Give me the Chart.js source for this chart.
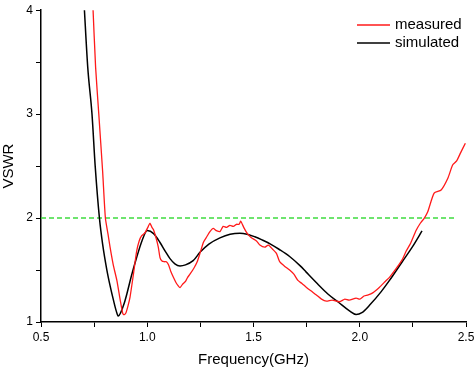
<!DOCTYPE html>
<html>
<head>
<meta charset="utf-8">
<script src="https://cdn.jsdelivr.net/npm/chart.js@4.4.0/dist/chart.umd.min.js"></script>
<style>
  body { margin: 0; background: #fff; }
  .wrap { width: 474px; height: 369px; position: relative; }
</style>
</head>
<body>
<div class="wrap"><canvas id="vswrCanvas"></canvas></div>
<script>
// ---------------- data ----------------
const seriesNames = ['measured', 'simulated'];

const measFreq = [0.744, 0.757, 0.772, 0.79, 0.803, 0.815, 0.825, 0.84, 0.857, 0.872,
  0.885, 0.891, 0.9, 0.91, 0.919, 0.935, 0.95, 0.962, 0.974, 0.99,
  1.005, 1.013, 1.022, 1.029, 1.04, 1.052, 1.06, 1.068, 1.08, 1.09,
  1.1, 1.112, 1.123, 1.135, 1.145, 1.154, 1.165, 1.18, 1.19, 1.201,
  1.22, 1.235, 1.248, 1.265, 1.28, 1.295, 1.31, 1.325, 1.342, 1.357,
  1.373, 1.389, 1.405, 1.42, 1.432, 1.44, 1.454, 1.465, 1.475, 1.49,
  1.514, 1.53, 1.553, 1.57, 1.59, 1.608, 1.623, 1.645, 1.67, 1.69,
  1.709, 1.728, 1.748, 1.77, 1.796, 1.82, 1.843, 1.87, 1.905, 1.93,
  1.95, 1.983, 2.0, 2.02, 2.04, 2.061, 2.093, 2.12, 2.14, 2.17,
  2.2, 2.218, 2.24, 2.265, 2.285, 2.304, 2.32, 2.35, 2.383, 2.414,
  2.437, 2.456, 2.475, 2.497];
const measVswr = [4.05, 3.45, 3.0, 2.45, 2.0, 1.85, 1.72, 1.55, 1.40, 1.22,
  1.08, 1.07, 1.09, 1.16, 1.24, 1.46, 1.68, 1.78, 1.83, 1.86,
  1.92, 1.95, 1.91, 1.89, 1.82, 1.72, 1.62, 1.59, 1.58, 1.58,
  1.55, 1.48, 1.43, 1.38, 1.35, 1.33, 1.36, 1.39, 1.43, 1.46,
  1.52, 1.58, 1.66, 1.77, 1.82, 1.87, 1.90, 1.88, 1.87, 1.92,
  1.91, 1.93, 1.92, 1.94, 1.94, 1.97, 1.91, 1.87, 1.84, 1.81,
  1.78, 1.74, 1.72, 1.74, 1.70, 1.66, 1.58, 1.54, 1.50, 1.46,
  1.40, 1.37, 1.335, 1.30, 1.26, 1.22, 1.20, 1.21, 1.195, 1.22,
  1.21, 1.23, 1.22, 1.25, 1.26, 1.28, 1.335, 1.39, 1.43, 1.51,
  1.60, 1.68, 1.76, 1.88, 1.95, 2.0, 2.06, 2.24, 2.27, 2.38,
  2.51, 2.55, 2.63, 2.72];

const simFreq = [0.703, 0.72, 0.74, 0.755, 0.775, 0.79, 0.81, 0.825, 0.841, 0.855,
  0.864, 0.875, 0.89, 0.904, 0.925, 0.95, 0.975, 1.0, 1.03, 1.06,
  1.085, 1.107, 1.13, 1.154, 1.18, 1.216, 1.248, 1.29, 1.342, 1.39,
  1.436, 1.47, 1.506, 1.54, 1.58, 1.62, 1.67, 1.72, 1.748, 1.8,
  1.85, 1.9, 1.95, 1.983, 2.01, 2.05, 2.1, 2.14, 2.2, 2.25,
  2.293];
const simVswr = [4.05, 3.45, 3.0, 2.5, 2.0, 1.75, 1.50, 1.35, 1.21, 1.10,
  1.057, 1.09, 1.17, 1.27, 1.44, 1.62, 1.78, 1.88, 1.85, 1.765,
  1.68, 1.61, 1.56, 1.54, 1.55, 1.59, 1.67, 1.75, 1.81, 1.845,
  1.855, 1.845, 1.82, 1.79, 1.75, 1.70, 1.63, 1.54, 1.48, 1.37,
  1.27, 1.19, 1.11, 1.073, 1.09, 1.17, 1.29, 1.40, 1.58, 1.73,
  1.876];

const refFreq = [0.5, 2.45];
const refVswr = [2, 2];

const xTicks = [0.5, 1.0, 1.5, 2.0, 2.5];
const yTicks = [1, 2, 3, 4];

// ---------------- helpers ----------------
function toPoints(xs, ys) {
    return xs.map((x, i) => ({ x: x, y: ys[i] }));
}

function isMajor(v, list) {
    return list.some(t => Math.abs(t - v) < 1e-6);
}

Chart.defaults.font.family = '"Liberation Sans", Arial, sans-serif';
Chart.defaults.color = '#000';

// simple legend in the top right corner, like the original
const cornerLegend = {
    id: 'cornerLegend',
    afterDraw(chart) {
        const ctx = chart.ctx;
        ctx.save();
        ctx.font = '15px "Liberation Sans", Arial, sans-serif';
        ctx.textBaseline = 'middle';
        ctx.fillStyle = '#000';
        seriesNames.forEach((name, i) => {
            const ds = chart.data.datasets[i];
            const y = 25 + i * 18;
            ctx.strokeStyle = ds.borderColor;
            ctx.lineWidth = 1.3;
            ctx.beginPath();
            ctx.moveTo(357, y);
            ctx.lineTo(390, y);
            ctx.stroke();
            ctx.fillText(name, 395, y);
        });
        ctx.restore();
    }
};

const chartVswr = document.getElementById('vswrCanvas');

new Chart(chartVswr, {
    type: 'line',
    data: {
        datasets: [
            {
                label: seriesNames[0],
                data: toPoints(measFreq, measVswr),
                borderColor: '#ff1a1a',
                borderWidth: 1.3,
                pointRadius: 0,
                tension: 0.2
            },
            {
                label: seriesNames[1],
                data: toPoints(simFreq, simVswr),
                borderColor: '#000000',
                borderWidth: 1.5,
                pointRadius: 0,
                cubicInterpolationMode: 'monotone'
            },
            {
                label: 'VSWR = 2',
                data: toPoints(refFreq, refVswr),
                borderColor: '#3fdc3f',
                borderWidth: 1.5,
                borderDash: [5, 3],
                pointRadius: 0
            }
        ]
    },
    options: {
        responsive: true,
        maintainAspectRatio: false,
        animation: false,
        layout: { padding: { top: 7, right: 8, left: 0, bottom: 0 } },
        plugins: {
            legend: { display: false },
            tooltip: { enabled: false }
        },
        scales: {
            x: {
                type: 'linear',
                min: 0.5,
                max: 2.5,
                afterFit: s => { s.height = 47; s.paddingLeft = 0; s.paddingRight = 0; },
                ticks: {
                    stepSize: 0.25,
                    autoSkip: false,
                    maxRotation: 0,
                    padding: 3,
                    font: { size: 12 },
                    color: '#000',
                    callback: v => isMajor(v, xTicks) ? v.toFixed(1) : ''
                },
                grid: { drawOnChartArea: false, tickLength: 5, color: '#000', lineWidth: 1 },
                border: { color: '#000', width: 1.5 },
                title: {
                    display: true,
                    text: 'Frequency(GHz)',
                    font: { size: 15 },
                    color: '#000',
                    padding: 0
                }
            },
            y: {
                min: 1,
                max: 4,
                afterFit: s => { s.width = 41; },
                ticks: {
                    stepSize: 0.5,
                    padding: 3,
                    font: { size: 12 },
                    color: '#000',
                    callback: v => isMajor(v, yTicks) ? String(v) : ''
                },
                grid: { drawOnChartArea: false, tickLength: 5, color: '#000', lineWidth: 1 },
                border: { color: '#000', width: 1.5 },
                title: {
                    display: true,
                    text: 'VSWR',
                    font: { size: 15 },
                    color: '#000',
                    padding: 0
                }
            }
        }
    },
    plugins: [cornerLegend]
});
</script>
</body>
</html>
